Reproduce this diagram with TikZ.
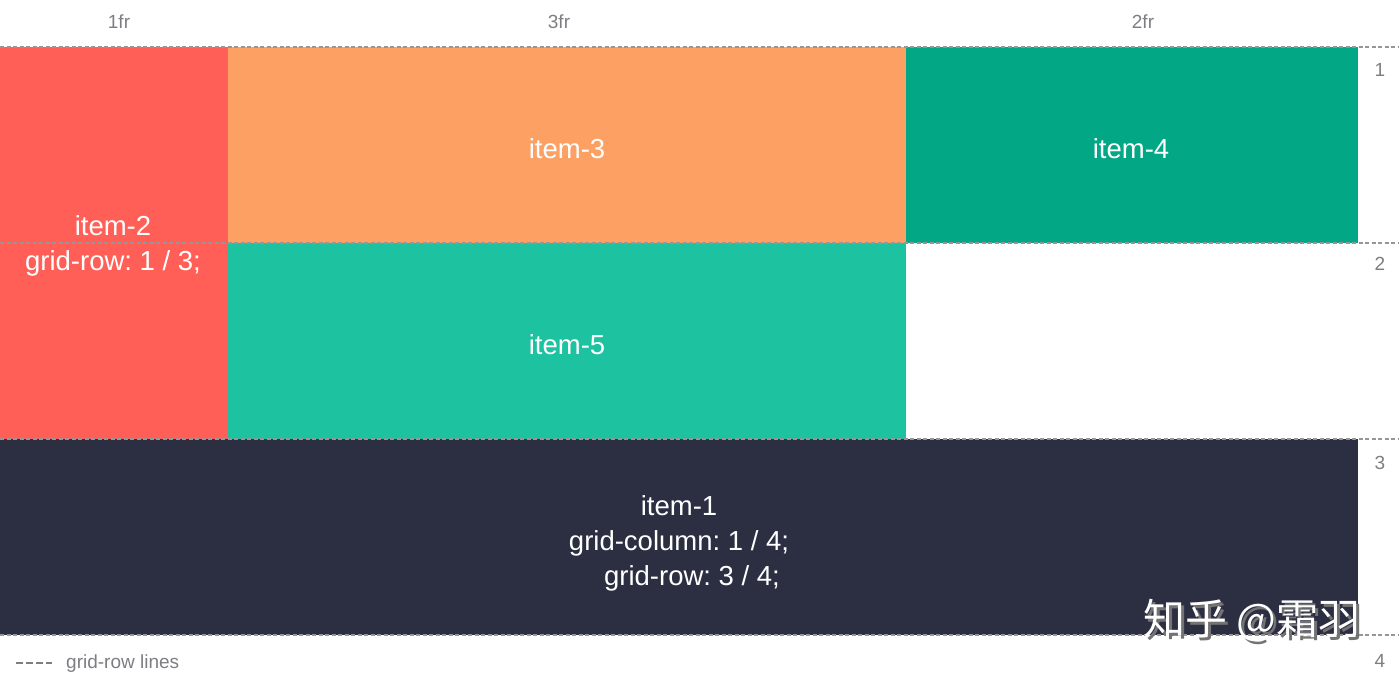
\documentclass[tikz,border=0pt]{standalone}
\usepackage{fontspec}
\setmainfont{Liberation Sans}
\newfontfamily\cjk{Noto Sans CJK SC}
\usetikzlibrary{positioning}
\frenchspacing
\definecolor{itemred}{RGB}{255,95,86}
\definecolor{itemorange}{RGB}{253,160,99}
\definecolor{itemgreen}{RGB}{2,167,134}
\definecolor{itemteal}{RGB}{29,195,161}
\definecolor{itemnavy}{RGB}{44,47,66}
\definecolor{linegray}{RGB}{150,150,152}
\definecolor{labelgray}{RGB}{125,125,130}
\tikzset{
	gridline/.style={dash pattern=on 4pt off 2.5pt, line width=1.4pt, color=linegray},
	itemtext/.style={text=white, font=\fontsize{27.5}{35}\selectfont, align=center, inner sep=0pt},
	ruletext/.style={text=labelgray, font=\fontsize{19}{22}\selectfont, inner sep=0pt}
}

\begin{document}
\begin{tikzpicture}[x=1pt, y=-1pt]
			%%%%% START %%%%%
			\useasboundingbox (0, 0) rectangle (1400, 681);
			
			% grid items
			\fill[itemred] (0, 47) rectangle (228, 439);
			\fill[itemorange] (228, 47) rectangle (906, 243);
			\fill[itemgreen] (906, 47) rectangle (1358, 243);
			\fill[itemteal] (228, 243) rectangle (906, 439);
			\fill[itemnavy] (0, 439) rectangle (1358, 635);
			
			% row lines
			\foreach \y in {47, 243, 439, 635}
				\draw[gridline] (0, \y) -- (1398, \y);
			
			% track sizes
			\node[ruletext] (fr1) at (119, 22) {1fr};
			\node[ruletext] (fr3) at (559, 22) {3fr};
			\node[ruletext] (fr2) at (1143, 22) {2fr};
			
			% row numbers
			\node[ruletext] (row1) at (1380, 70) {1};
			\node[ruletext] (row2) at (1380, 264) {2};
			\node[ruletext] (row3) at (1380, 463) {3};
			\node[ruletext] (row4) at (1380, 661) {4};
			
			% item labels
			\node[itemtext] (item2) at (113, 246) {item-2\\grid-row: 1 / 3;};
			\node[itemtext] (item3) at (567, 149) {item-3};
			\node[itemtext] (item4) at (1131, 149) {item-4};
			\node[itemtext] (item5) at (567, 345) {item-5};
			\node[itemtext] (item1) at (679, 543) {item-1\\grid-column: 1 / 4;\\\hspace*{26pt}grid-row: 3 / 4;};
			
			% legend
			\coordinate (legA) at (16, 663);
			\coordinate (legB) at (52, 663);
			\draw[labelgray, line width=1.3pt, dash pattern=on 6.5pt off 3.5pt] (legA) -- (legB);
			\node[ruletext, anchor=west] (legend) at (66, 664) {grid-row lines};
			
			% watermark
			\node[text=black!55, font=\cjk\fontsize{42}{42}\selectfont, inner sep=0pt] (markshadow) at (1255, 623) {知乎 @霜羽};
			\node[text=white, font=\cjk\fontsize{42}{42}\selectfont, inner sep=0pt] (mark) at (1252, 620) {知乎 @霜羽};
			%%%%% END %%%%%
\end{tikzpicture}
\end{document}
